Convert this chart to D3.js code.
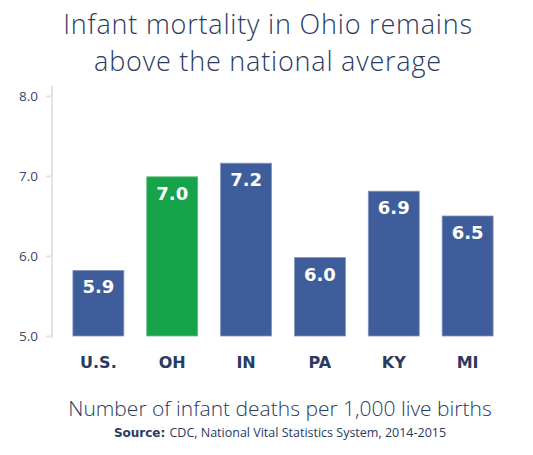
<!DOCTYPE html>
<html>
<head>
<meta charset="utf-8">
<script src="https://cdn.jsdelivr.net/npm/d3@7"></script>
<style>
  body { margin: 0; background: #fff; }
  svg { display: block; }
</style>
</head>
<body>
<div id="chart"></div>
<script>
// categories and values
const states = ["U.S.", "OH", "IN", "PA", "KY", "MI"];
const barValues = [5.82, 6.99, 7.16, 5.98, 6.81, 6.50];
const barLabels = ["5.9", "7.0", "7.2", "6.0", "6.9", "6.5"];
const yTicks = [5, 6, 7, 8];

const W = 533, H = 455;
const navy = "#2b3a5f";
const thin = "'Open Sans'";
const heavy = "'DejaVu Sans'";

let svg = d3.select("#chart")
  .append("svg")
  .attr("width", W)
  .attr("height", H);

let x = d3.scaleBand()
  .domain(states)
  .range([50, 516])
  .padding(0.31);

let y = d3.scaleLinear()
  .domain([5, 8])
  .range([336, 96]);

// title
svg.append("text")
  .attr("x", 268).attr("y", 34)
  .attr("text-anchor", "middle")
  .style("font", "300 27px " + thin)
  .style("letter-spacing", "0.8px")
  .style("fill", navy)
  .text("Infant mortality in Ohio remains");

svg.append("text")
  .attr("x", 268).attr("y", 71)
  .attr("text-anchor", "middle")
  .style("font", "300 27px " + thin)
  .style("letter-spacing", "0.8px")
  .style("fill", navy)
  .text("above the national average");

// y axis
let yAxis = svg.append("g")
  .attr("transform", "translate(52,0)")
  .call(d3.axisLeft(y).tickValues(yTicks).tickFormat(d3.format(".1f")).tickSize(6).tickPadding(8));

yAxis.select(".domain")
  .attr("d", "M0," + 86 + "V" + 338)
  .attr("stroke", "#e3e3e3")
  .attr("stroke-width", 2);
yAxis.selectAll(".tick line").attr("stroke", "#e3e3e3").attr("stroke-width", 2);
yAxis.selectAll(".tick text")
  .style("font", "13.5px " + thin)
  .style("fill", "#3b4766");

// bars
svg.selectAll(".bar")
  .data(states)
  .enter()
  .append("rect")
  .attr("class", "bar")
  .attr("x", d => x(d))
  .attr("width", x.bandwidth())
  .attr("y", (d, i) => y(barValues[i]))
  .attr("height", (d, i) => y(5) - y(barValues[i]))
  .attr("fill", d => d == "OH" ? "#16a34a" : "#3e5d9a")
  .attr("stroke", d => d == "OH" ? "#5fc07f" : "#8396c0")
  .attr("stroke-width", 0.8);

// value labels
svg.selectAll(".val")
  .data(states)
  .enter()
  .append("text")
  .attr("class", "val")
  .attr("x", d => x(d) + x.bandwidth() / 2)
  .attr("y", (d, i) => y(barValues[i]) + 23)
  .attr("text-anchor", "middle")
  .style("font", "bold 18px " + heavy)
  .style("fill", "#fff")
  .text((d, i) => barLabels[i]);

// category labels
svg.selectAll(".cat")
  .data(states)
  .enter()
  .append("text")
  .attr("class", "cat")
  .attr("x", d => x(d) + x.bandwidth() / 2)
  .attr("y", 368)
  .attr("text-anchor", "middle")
  .style("font", "bold 16px " + heavy)
  .style("fill", navy)
  .text(d => d);

// axis caption and source
svg.append("text")
  .attr("x", 280).attr("y", 416)
  .attr("text-anchor", "middle")
  .style("font", "300 21px " + thin)
  .style("fill", navy)
  .text("Number of infant deaths per 1,000 live births");

let src = svg.append("text")
  .attr("x", 280).attr("y", 437)
  .attr("text-anchor", "middle")
  .style("font", "12.5px " + thin)
  .style("fill", navy);
src.append("tspan").style("font-weight", "bold").style("font-family", heavy).style("font-size", "12px").text("Source: ");
src.append("tspan").text("CDC, National Vital Statistics System, 2014-2015");
</script>
</body>
</html>
